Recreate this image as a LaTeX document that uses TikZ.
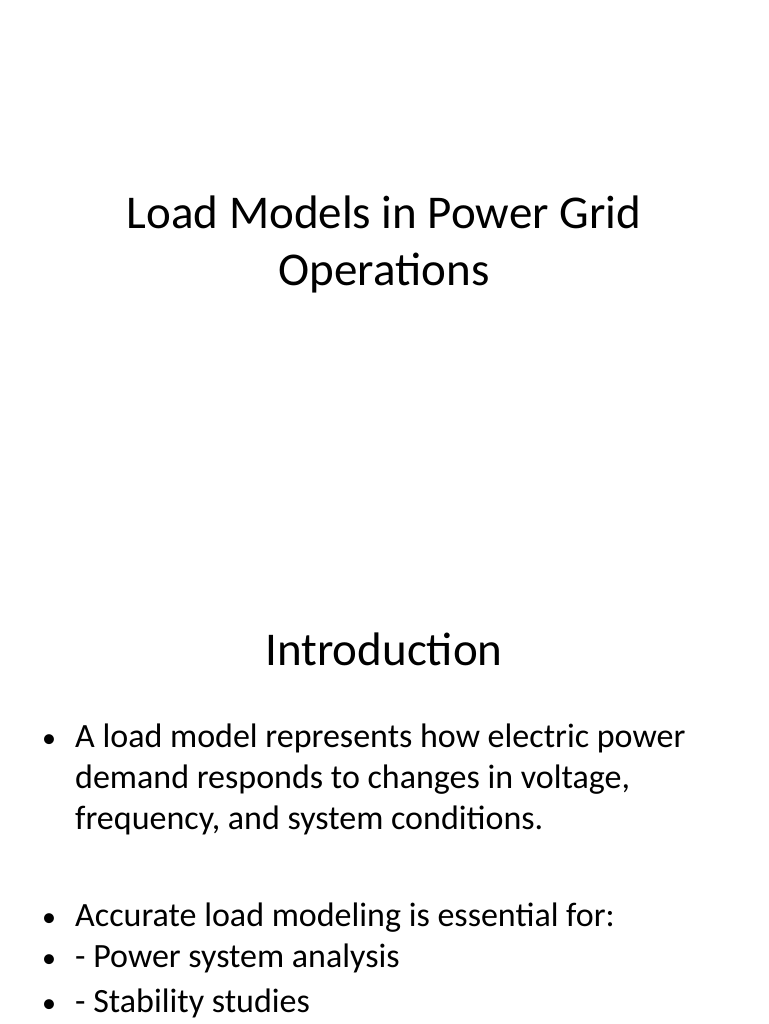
\documentclass[tikz,border=0pt]{standalone}
\usepackage{fontspec}
\setmainfont{Carlito}
\begin{document}
\begin{tikzpicture}[x=1pt,y=-1pt,
  title/.style={font=\fontsize{47}{56}\selectfont,anchor=base},
  body/.style={font=\fontsize{34}{40}\selectfont,anchor=base west,inner sep=0pt},
  bul/.style={font=\fontsize{28}{34}\selectfont,anchor=base,inner sep=0pt}]
\useasboundingbox (0,0) rectangle (768,1024);
\node[title] (t1) at (384,229) {Load Models in Power Grid};
\node[title] (t2) at (384,285) {Operations};
\node[title] (intro) at (384,665) {Introduction};
\foreach \y/\t [count=\i] in {747/A load model represents how electric power,
  926/Accurate load modeling is essential for:,
  967/- Power system analysis,
  1012/- Stability studies}{
  \node[bul] (b\i) at (49,\y) {•};
  \node[body] (l\i) at (75,\y) {\t};
}
\node[body] (l1b) at (75,788) {demand responds to changes in voltage,};
\node[body] (l1c) at (75,829) {frequency, and system conditions.};
\end{tikzpicture}
\end{document}
